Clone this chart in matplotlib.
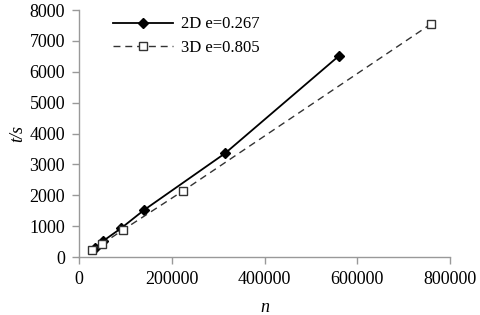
import matplotlib
matplotlib.use("Agg")
import matplotlib.pyplot as plt

n_2d = [34500, 51000, 90500, 140000, 315000, 560000]
t_2d = [290, 510, 930, 1520, 3360, 6510]
n_3d = [27300, 49000, 94000, 224000, 759000]
t_3d = [215, 420, 870, 2140, 7550]

x_ticks = [0, 200000, 400000, 600000, 800000]
y_ticks = [0, 1000, 2000, 3000, 4000, 5000, 6000, 7000, 8000]

plt.rcParams['font.family'] = ['Liberation Serif', 'DejaVu Serif']
fig = plt.figure(figsize=(4.8, 3.15), dpi=100)
ax = fig.add_axes([0.1646, 0.184, 0.7729, 0.784])

ax.plot(n_2d, t_2d, color='black', lw=1.3, marker='D', ms=5, mfc='black', mec='black',
        label='2D e=0.267')
ax.plot(n_3d, t_3d, color='#333333', lw=1.0, ls=(0, (5, 3.5)), marker='s', ms=6,
        mfc='white', mec='#333333', mew=1.0, label='3D e=0.805')

ax.set_xlim(0, 800000)
ax.set_ylim(0, 8000)
ax.set_xticks(x_ticks)
ax.set_yticks(y_ticks)
ax.set_xticklabels([str(v) for v in x_ticks], fontsize=13)
ax.set_yticklabels([str(v) for v in y_ticks], fontsize=13)
for s in ['top', 'right']:
    ax.spines[s].set_visible(False)
for s in ['left', 'bottom']:
    ax.spines[s].set_color('#999999')
    ax.spines[s].set_linewidth(1.0)
ax.tick_params(axis='both', direction='out', length=5, color='#999999', width=1.0, pad=5)

ax.set_xlabel('n', fontsize=13, style='italic', labelpad=8)
ax.set_ylabel('t/s', fontsize=13, style='italic', labelpad=2)

ax.legend(loc='upper left', bbox_to_anchor=(0.05, 1.035), frameon=False, fontsize=12,
          handlelength=3.6, handletextpad=0.5, labelspacing=0.45)

fig.savefig('out.png', dpi=100)
